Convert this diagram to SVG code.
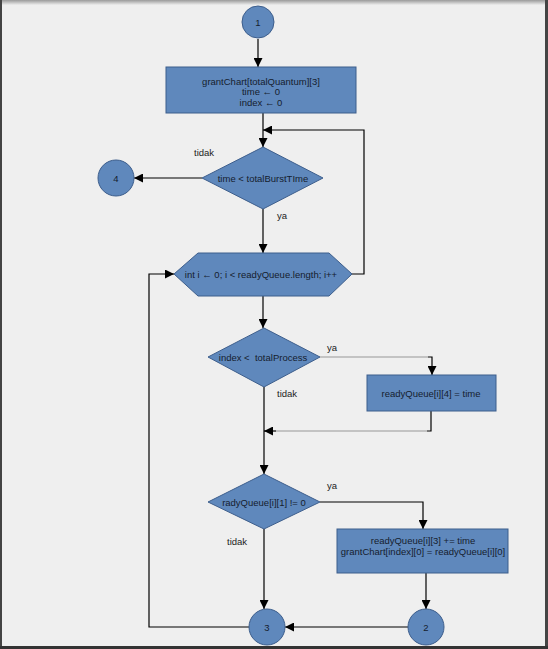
<svg xmlns="http://www.w3.org/2000/svg" width="548" height="649" viewBox="0 0 548 649">
<defs>
<style>
.n{fill:#5f88bc;stroke:#3d5e8c;stroke-width:1}
.t{font-family:"Liberation Sans",Arial,sans-serif;font-size:9.5px;fill:#15202e;text-anchor:middle}
.l{font-family:"Liberation Sans",Arial,sans-serif;font-size:9.5px;fill:#222;text-anchor:start}
.c{fill:none;stroke:#000;stroke-width:1.2}
.g{fill:none;stroke:#b4b4b4;stroke-width:1.6}
</style>
<marker id="a" viewBox="0 0 10 10" refX="10" refY="5" markerWidth="9" markerHeight="9" markerUnits="userSpaceOnUse" orient="auto">
<path d="M0,0 L10,5 L0,10 z" fill="#000"/>
</marker>
<linearGradient id="top" x1="0" y1="0" x2="0" y2="1">
<stop offset="0" stop-color="#9a9a9a"/>
<stop offset="1" stop-color="#eeeeee"/>
</linearGradient>
</defs>
<rect x="0" y="0" width="548" height="649" fill="#efefef"/>
<rect x="0" y="0" width="548" height="5" fill="url(#top)"/>
<rect x="0" y="0" width="2" height="649" fill="#444"/>
<rect x="545" y="0" width="3" height="649" fill="#444"/>
<rect x="0" y="646" width="548" height="3" fill="#333"/>

<g id="connectors">
<path class="c" d="M258,39 V67" marker-end="url(#a)"/>
<path class="c" d="M263,113 V147" marker-end="url(#a)"/>
<path class="c" d="M352,274 H364 V130 H263" marker-end="url(#a)"/>
<path class="c" d="M202,178 H134" marker-end="url(#a)"/>
<path class="c" d="M263,209 V253" marker-end="url(#a)"/>
<path class="c" d="M249,627 H149 V274 H174" marker-end="url(#a)"/>
<path class="c" d="M263,296 V328" marker-end="url(#a)"/>
<path class="g" d="M320,357 H428"/>
<path class="c" d="M428,357 H432 V375" marker-end="url(#a)"/>
<path class="c" d="M431,411 V431 H427"/>
<path class="g" d="M427,431 H276"/>
<path class="c" d="M276,431 H264" marker-end="url(#a)"/>
<path class="c" d="M264,387 V474" marker-end="url(#a)"/>
<path class="c" d="M320,502 H423 V529" marker-end="url(#a)"/>
<path class="c" d="M264,529 V609" marker-end="url(#a)"/>
<path class="c" d="M426,573 V609" marker-end="url(#a)"/>
<path class="c" d="M408,627 H285" marker-end="url(#a)"/>
</g>

<g id="n1">
<circle class="n" cx="258" cy="22" r="16"/>
<text class="t" x="258" y="25.5">1</text>
</g>
<g id="init">
<rect class="n" x="166" y="67" width="190" height="46"/>
<text class="t" x="261" y="85">grantChart[totalQuantum][3]</text>
<text class="t" x="261" y="95">time ← 0</text>
<text class="t" x="261" y="106">index ← 0</text>
</g>
<g id="cond1">
<polygon class="n" points="263,147 323,178 263,209 202,178"/>
<text class="t" x="263" y="181.5">time &lt; totalBurstTIme</text>
<text class="l" x="194" y="156">tidak</text>
<text class="l" x="277" y="219">ya</text>
</g>
<g id="n4">
<circle class="n" cx="116" cy="178" r="18"/>
<text class="t" x="116" y="181.5">4</text>
</g>
<g id="loop">
<polygon class="n" points="174,274 198,253 329,253 352,274 329,296 198,296"/>
<text class="t" x="261" y="277.5">int i ← 0; i &lt; readyQueue.length; i++</text>
</g>
<g id="cond2">
<polygon class="n" points="264,328 320,357 264,387 208,357"/>
<text class="t" x="263" y="360.5" xml:space="preserve">index &lt;  totalProcess</text>
<text class="l" x="327" y="351">ya</text>
<text class="l" x="277" y="397">tidak</text>
</g>
<g id="set4">
<rect class="n" x="367" y="375" width="129" height="36"/>
<text class="t" x="431" y="397">readyQueue[i][4] = time</text>
</g>
<g id="cond3">
<polygon class="n" points="264,474 320,502 264,529 208,502"/>
<text class="t" x="264" y="505.5">radyQueue[i][1] != 0</text>
<text class="l" x="327" y="489">ya</text>
<text class="l" x="227" y="545">tidak</text>
</g>
<g id="update">
<rect class="n" x="337" y="529" width="171" height="44"/>
<text class="t" x="423" y="544">readyQueue[i][3] += time</text>
<text class="t" x="423" y="555">grantChart[index][0] = readyQueue[i][0]</text>
</g>
<g id="n3">
<circle class="n" cx="267" cy="627" r="18"/>
<text class="t" x="267" y="630.5">3</text>
</g>
<g id="n2">
<circle class="n" cx="426" cy="627" r="18"/>
<text class="t" x="426" y="630.5">2</text>
</g>
</svg>
